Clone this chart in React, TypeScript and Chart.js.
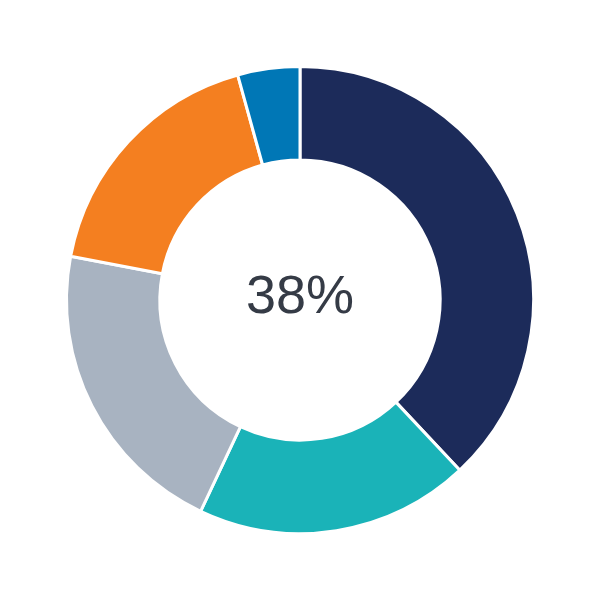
import React, { useEffect, useRef } from 'react';
import { Chart, registerables } from 'chart.js';

Chart.register(...registerables);

const labels = ['Navy', 'Teal', 'Gray', 'Orange', 'Blue'];
const values = [38, 19, 21, 17.7, 4.3];
const colors = ['#1c2b5a', '#1ab3b8', '#a8b3c1', '#f47f20', '#0077b6'];
const centerText = '38%';

const centerTextPlugin = {
  id: 'centerText',
  afterDraw(chart: any) {
    const { ctx, chartArea } = chart;
    const cx = (chartArea.left + chartArea.right) / 2;
    const cy = (chartArea.top + chartArea.bottom) / 2;
    ctx.save();
    ctx.font = '54px "Liberation Sans", Arial, sans-serif';
    ctx.fillStyle = '#353b46';
    ctx.textAlign = 'center';
    ctx.textBaseline = 'middle';
    ctx.fillText(centerText, cx, cy - 2);
    ctx.restore();
  },
};

function App() {
  const chartRef: any = useRef(null);

  useEffect(() => {
    const ctx = chartRef.current.getContext('2d');
    const chartInstance = new Chart(ctx, {
      type: 'doughnut',
      data: {
        labels: labels,
        datasets: [
          {
            data: values,
            backgroundColor: colors,
            borderColor: '#ffffff',
            borderWidth: 3,
          },
        ],
      },
      options: {
        responsive: false,
        animation: false,
        cutout: '60%',
        layout: { padding: 65 },
        plugins: {
          legend: { display: false },
          tooltip: { enabled: false },
        },
      },
      plugins: [centerTextPlugin],
    });

    return () => {
      chartInstance.destroy();
    };
  }, []);

  return (
    <div style={{ position: 'fixed', top: 0, left: 0, width: '600px', height: '600px', background: '#fff' }}>
      <canvas ref={chartRef} width={600} height={600} />
    </div>
  );
}

export default App;
